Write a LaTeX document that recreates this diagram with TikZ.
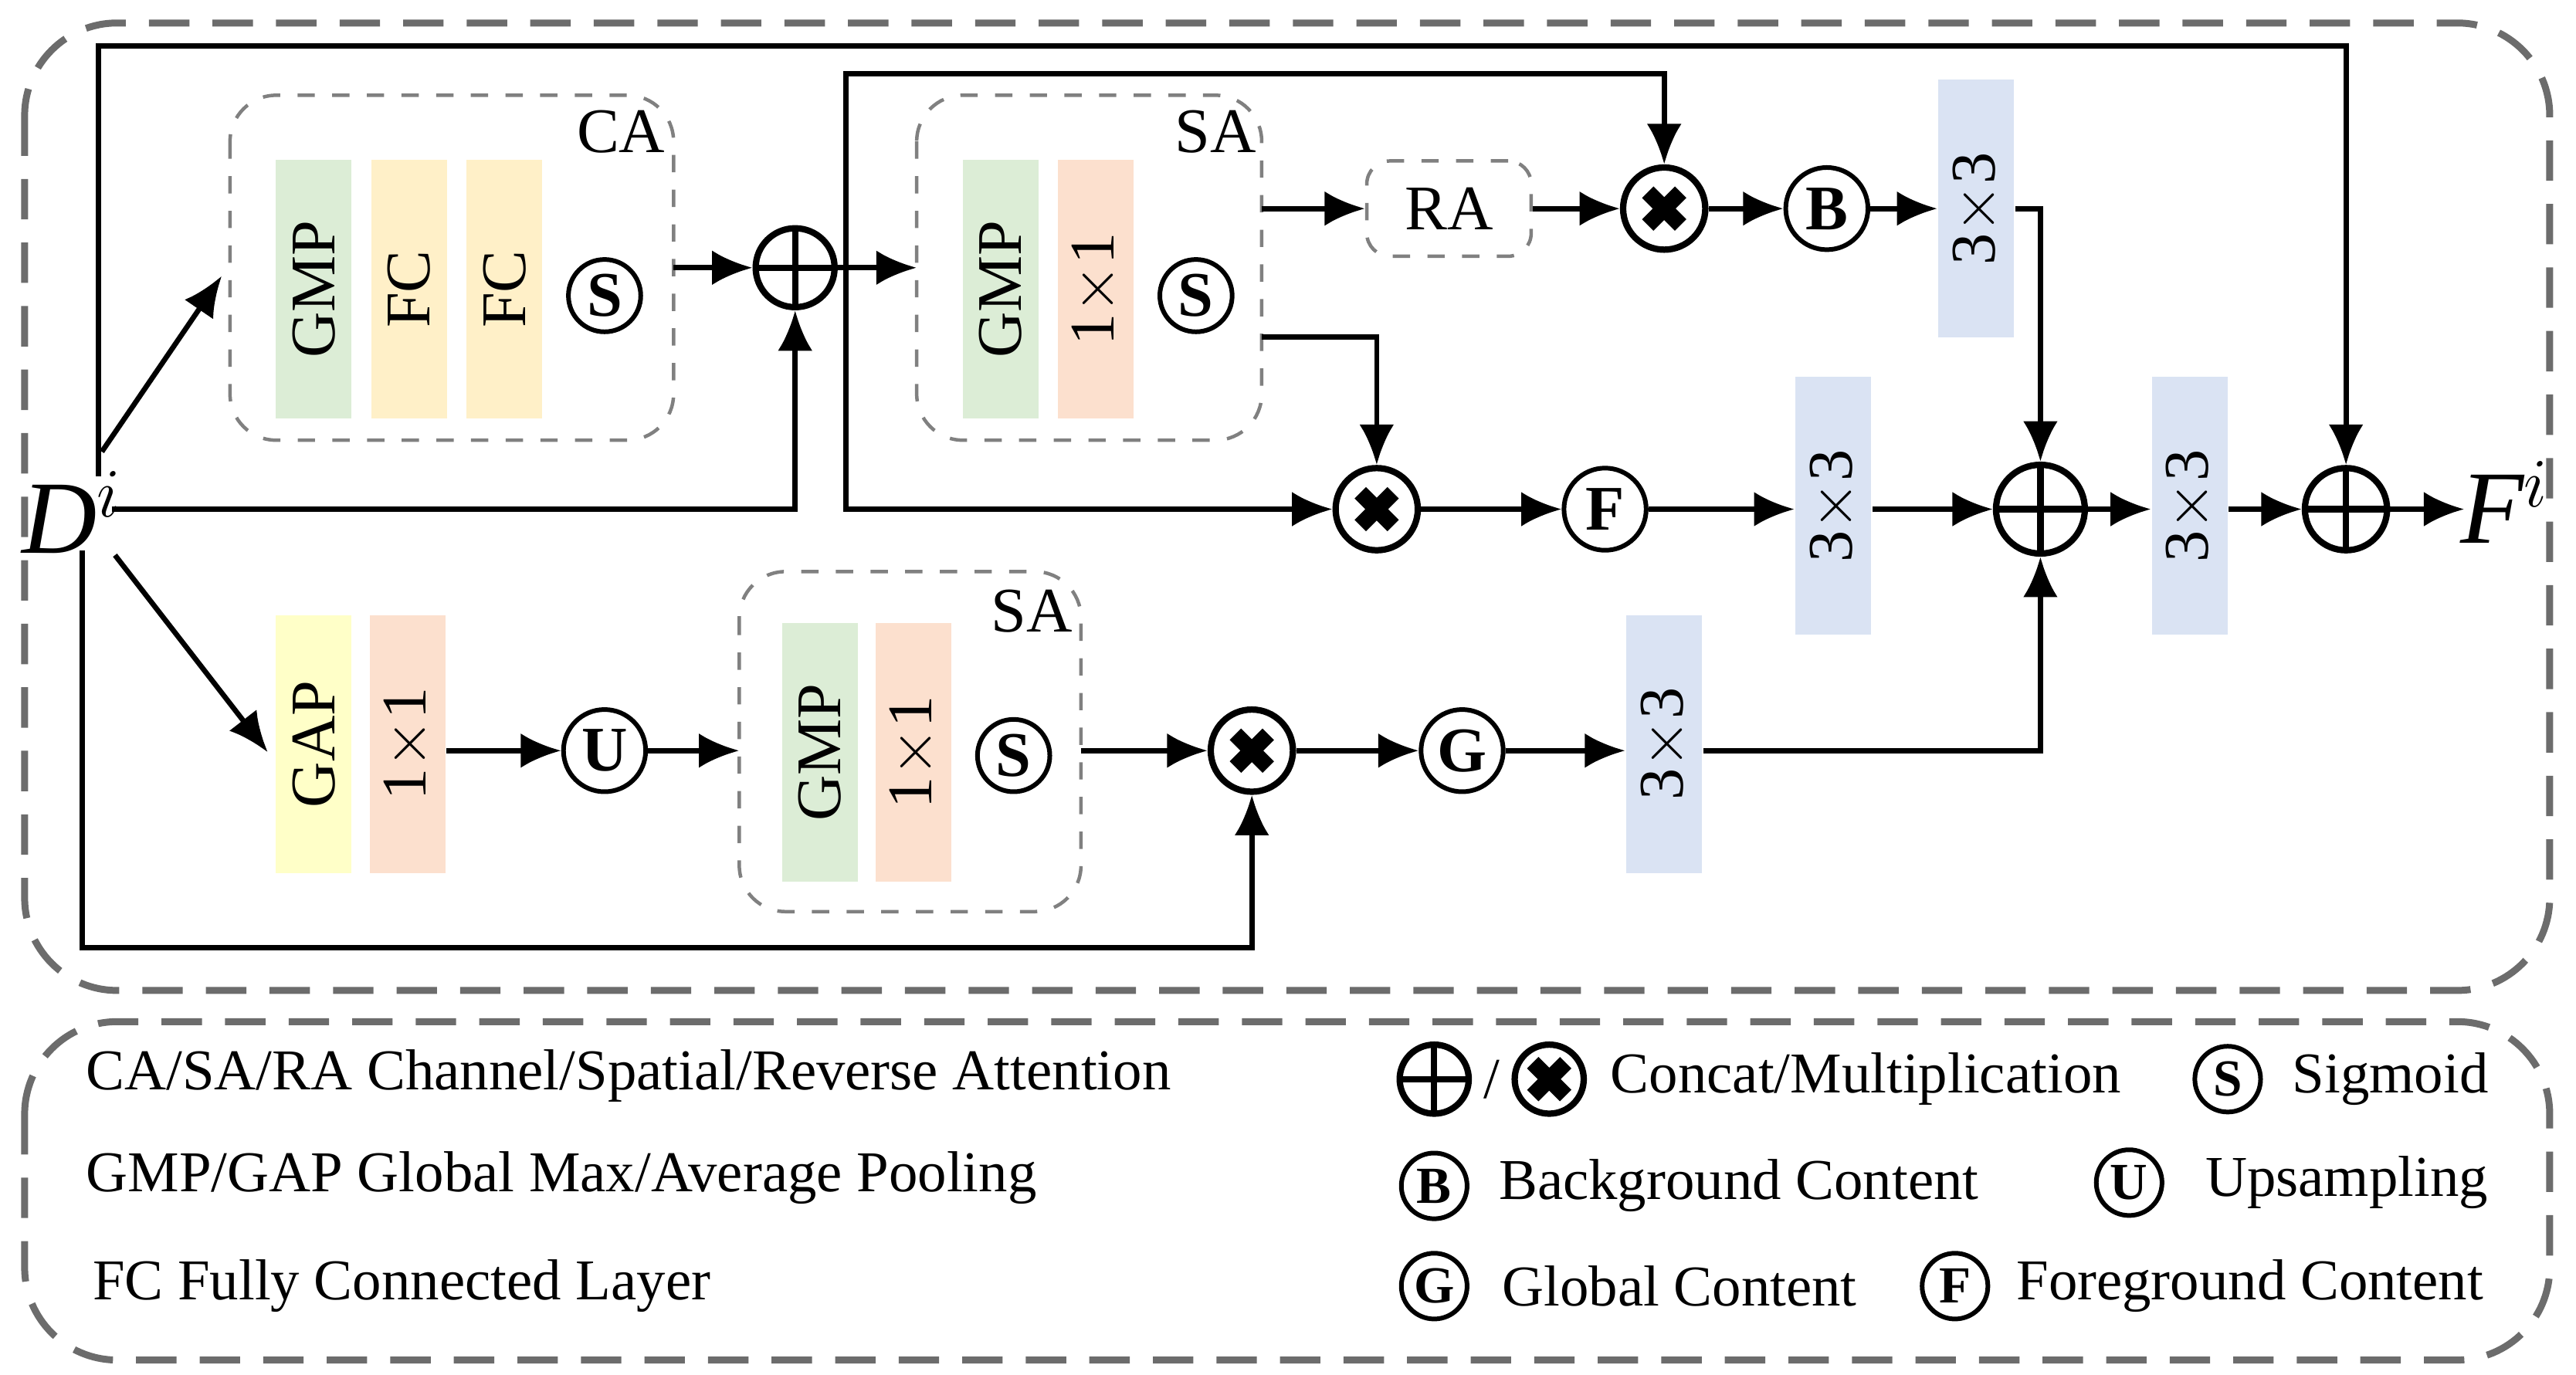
\documentclass[tikz,border=0pt]{standalone}
\usepackage{fontspec}
\setmainfont{Liberation Serif}
\usetikzlibrary{arrows.meta,calc}
\definecolor{cgrn}{RGB}{220,237,214}
\definecolor{cyel}{RGB}{255,240,200}
\definecolor{clyel}{RGB}{255,255,200}
\definecolor{corg}{RGB}{252,224,206}
\definecolor{cblu}{RGB}{218,227,243}
\begin{document}
\begin{tikzpicture}[x=0.01cm,y=-0.01cm,
  ln/.style={line width=0.9pt,-{Latex[length=7pt,width=6pt]}},
  box/.style={draw=gray,dashed,rounded corners=8pt,line width=0.6pt},
  big/.style={draw=gray!85!black,dashed,dash pattern=on 7pt off 4pt,rounded corners=16pt,line width=1.2pt},
  bar/.style={rotate=90,minimum width=1.57cm,minimum height=0.46cm,inner sep=0pt,font=\fontsize{11}{11}\selectfont},
  grn/.style={bar,fill=cgrn},
  yel/.style={bar,fill=cyel},
  lyel/.style={bar,fill=clyel},
  org/.style={bar,fill=corg},
  blu/.style={bar,fill=cblu},
  cir/.style={circle,draw,line width=0.8pt,minimum size=0.44cm,inner sep=0pt,font=\bfseries\fontsize{11}{11}\selectfont},
  lcir/.style={circle,draw,line width=0.8pt,minimum size=0.40cm,inner sep=0pt,font=\bfseries\fontsize{9}{9}\selectfont},
  oplus/.style={circle,draw,line width=1.1pt,minimum size=#1,inner sep=0pt,
    path picture={\draw[line width=1.1pt] (path picture bounding box.north)--(path picture bounding box.south)
      (path picture bounding box.west)--(path picture bounding box.east);}},
  otimes/.style={circle,draw,line width=1.1pt,minimum size=#1,inner sep=0pt,
    path picture={\draw[line width=2.8pt] ($(path picture bounding box.center)+(-0.1cm,-0.1cm)$)--++(0.2cm,0.2cm)
      ($(path picture bounding box.center)+(-0.1cm,0.1cm)$)--++(0.2cm,-0.2cm);}},
  lab/.style={font=\fontsize{11}{11}\selectfont},
  leg/.style={anchor=west,font=\fontsize{10}{10}\selectfont}
]
\useasboundingbox (0,0) rectangle (1568,837);
\draw[big] (15,14) rectangle (1552,603);
\draw[big] (15,622) rectangle (1552,828);

% CA block
\draw[box] (140,58) rectangle (410,268);
\node[lab] (ca) at (378,80) {CA};
\node[grn] (gmp1) at (191,176) {GMP};
\node[yel] (fc1) at (249,176) {FC};
\node[yel] (fc2) at (307,176) {FC};
\node[cir] (s1) at (368,180) {S};
\coordinate (caR) at (410,163);
% SA1
\draw[box] (558,58) rectangle (768,268);
\node[lab] (sa1) at (740,80) {SA};
\node[grn] (gmp2) at (609,176) {GMP};
\node[org] (c11) at (667,176) {1$\times$1};
\node[cir] (s2) at (728,180) {S};
\coordinate (saL) at (558,163);
\coordinate (saR1) at (768,127);
\coordinate (saR2) at (768,205);
\node[oplus=0.48cm] (p1) at (484,163) {};
% RA
\node[draw=gray,dashed,rounded corners=4pt,line width=0.6pt,minimum width=1.0cm,minimum height=0.58cm,lab] (ra) at (882,127) {RA};
\node[otimes=0.50cm] (m1) at (1013,127) {};
\node[cir,minimum size=0.5cm] (b) at (1112,127) {B};
\node[blu] (k1) at (1203,127) {3$\times$3};
% middle
\node[otimes=0.50cm] (m2) at (838,310) {};
\node[cir,minimum size=0.5cm] (f) at (977,310) {F};
\node[blu] (k2) at (1116,308) {3$\times$3};
\node[oplus=0.54cm] (p2) at (1242,310) {};
\node[blu] (k3) at (1333,308) {3$\times$3};
\node[oplus=0.50cm] (p3) at (1428,310) {};
\node[font=\fontsize{18}{18}\selectfont\itshape] (fi) at (1525,306) {F$^{i}$};
\node[font=\fontsize{18}{18}\selectfont\itshape] (di) at (44,312) {D$^{i}$};
% bottom
\node[lyel] (gap) at (191,453) {GAP};
\node[org] (c12) at (248,453) {1$\times$1};
\node[cir,minimum size=0.5cm] (u) at (368,457) {U};
\draw[box] (450,348) rectangle (658,555);
\node[lab] (sa2) at (628,372) {SA};
\node[grn] (gmp3) at (499,458) {GMP};
\node[org] (c13) at (556,458) {1$\times$1};
\node[cir] (s3) at (617,460) {S};
\node[otimes=0.50cm] (m3) at (762,457) {};
\node[cir,minimum size=0.5cm] (g) at (890,457) {G};
\node[blu] (k4) at (1013,453) {3$\times$3};
\coordinate (sa2L) at (450,457);
\coordinate (sa2R) at (658,457);

% connectors from D
\coordinate (d1) at (60,290);
\coordinate (d2) at (62,275);
\coordinate (d3) at (68,310);
\coordinate (d4) at (70,338);
\coordinate (d5) at (50,335);
\draw[ln] (d1) |- (60,28) -| (p3.north);
\draw[ln] (d2) -- (135,168);
\draw[ln] (d3) -| (p1.south);
\draw[ln] (d4) -- (163,458);
\draw[ln] (d5) |- (60,577) -| (m3.south);
% top row
\draw[ln] (caR) -- (p1.west);
\draw[ln] (p1.east) -- (saL);
\draw[ln] (515,163) |- (1013,45) -- (m1.north);
\draw[ln] (515,163) |- (m2.west);
\draw[ln] (saR1) -- (ra.west);
\draw[ln] (ra.east) -- (m1.west);
\draw[ln] (m1.east) -- (b.west);
\draw[ln] (b.east) -- (k1.north);
\draw[ln] (k1.south) -| (p2.north);
\draw[ln] (saR2) -| (m2.north);
\draw[ln] (m2.east) -- (f.west);
\draw[ln] (f.east) -- (f.east -| k2.north);
\draw[ln] (k2.south |- p2.west) -- (p2.west);
\draw[ln] (p2.east) -- (p2.east -| k3.north);
\draw[ln] (k3.south |- p3.west) -- (p3.west);
\draw[ln] (p3.east) -- (1500,310);
% bottom row
\draw[ln] (c12.south |- u.west) -- (u.west);
\draw[ln] (u.east) -- (sa2L);
\draw[ln] (sa2R) -- (m3.west);
\draw[ln] (m3.east) -- (g.west);
\draw[ln] (g.east) -- (g.east -| k4.north);
\draw[ln] (k4.south |- g.east) -| (p2.south);

% legend
\node[leg] (l1) at (40,655) {CA/SA/RA Channel/Spatial/Reverse Attention};
\node[leg] (l2) at (40,717) {GMP/GAP Global Max/Average Pooling};
\node[leg] (l3) at (44,783) {FC Fully Connected Layer};
\node[oplus=0.42cm] (lp) at (873,657) {};
\node[font=\fontsize{10}{10}\selectfont] (sl) at (908,657) {/};
\node[otimes=0.42cm] (lm) at (943,657) {};
\node[leg] (lt1) at (968,657) {Concat/Multiplication};
\node[lcir] (ls) at (1356,657) {S};
\node[leg] (lt2) at (1383,657) {Sigmoid};
\node[lcir] (lb) at (873,722) {B};
\node[leg] (lt3) at (900,722) {Background Content};
\node[lcir] (lu) at (1296,720) {U};
\node[leg] (lt4) at (1330,720) {Upsampling};
\node[lcir] (lg) at (873,783) {G};
\node[leg] (lt5) at (902,783) {Global Content};
\node[lcir] (lf) at (1190,783) {F};
\node[leg] (lt6) at (1215,783) {Foreground Content};
\end{tikzpicture}
\end{document}
